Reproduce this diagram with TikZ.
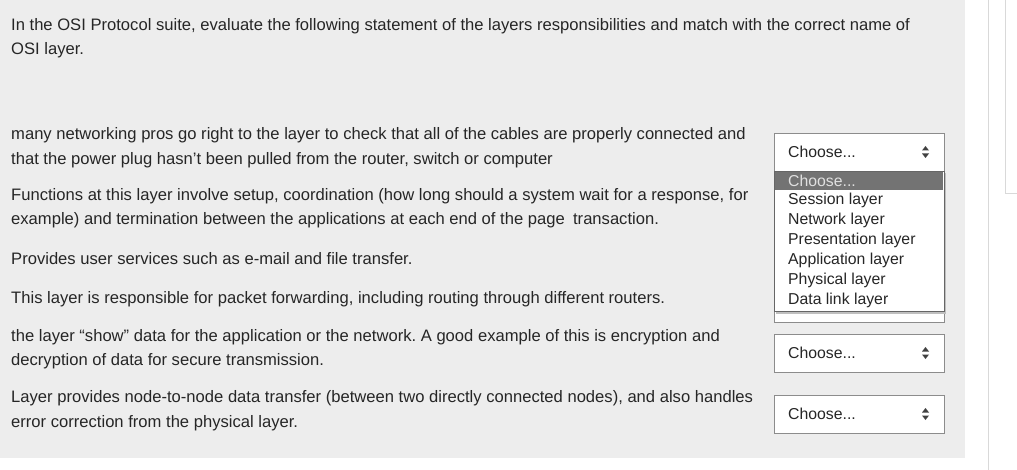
\documentclass[tikz,border=0pt]{standalone}
\usepackage{fontspec}
\setmainfont{Liberation Sans}
\frenchspacing
\begin{document}
\begin{tikzpicture}[x=1pt,y=-1pt,
  txt/.style={anchor=west,inner sep=0pt,font=\fontsize{16.6}{18}\selectfont,text=black!85},
  opt/.style={anchor=west,inner sep=0pt,font=\fontsize{15.8}{18}\selectfont,text=black!85},
  box/.style={draw=black!45,fill=white,line width=0.8pt}]
\useasboundingbox (0,0) rectangle (1017,470);
\fill[white] (0,0) rectangle (1017,470);
\fill[black!7] (0,0) rectangle (965,458);
\draw[black!15] (988,0) -- (988,470);
\draw[black!15] (1005,0) -- (1005,193) -- (1017,193);
\node[txt] (t1) at (11,26) {In the OSI Protocol suite, evaluate the following statement of the layers responsibilities and match with the correct name of};
\node[txt] (t2) at (11,50) {OSI layer.};
\node[txt] (a1) at (11,135) {many networking pros go right to the layer to check that all of the cables are properly connected and};
\node[txt] (a2) at (11,160) {that the power plug hasn't been pulled from the router, switch or computer};
\node[txt] (b1) at (11,196) {Functions at this layer involve setup, coordination (how long should a system wait for a response, for};
\node[txt] (b2) at (11,220) {example) and termination between the applications at each end of the page\enspace transaction.};
\node[txt] (c1) at (11,259) {Provides user services such as e-mail and file transfer.};
\node[txt] (d1) at (11,299) {This layer is responsible for packet forwarding, including routing through different routers.};
\node[txt] (e1) at (11,337) {the layer ``show'' data for the application or the network. A good example of this is encryption and};
\node[txt] (e2) at (11,361) {decryption of data for secure transmission.};
\node[txt] (f1) at (11,398) {Layer provides node-to-node data transfer (between two directly connected nodes), and also handles};
\node[txt] (f2) at (11,423) {error correction from the physical layer.};
% dropdowns
\draw[box] (774,133) rectangle (944,175);
\draw[box] (774,250) rectangle (944,322);
\draw[box] (774,334) rectangle (944,372);
\draw[box] (774,395) rectangle (944,433);
\node[opt] (s1) at (788,152) {Choose...};
\node[opt] (s2) at (788,353) {Choose...};
\node[opt] (s3) at (788,414) {Choose...};
\foreach \yy in {152,353,414}{
  \fill[black!75] (922,\yy-1.5) -- (929,\yy-1.5) -- (925.5,\yy-6) -- cycle;
  \fill[black!75] (922,\yy+1.5) -- (929,\yy+1.5) -- (925.5,\yy+6) -- cycle;
}
% list
\fill[black!25] (776,173) rectangle (946,314);
\draw[fill=white,draw=black!60,line width=0.8pt] (774,171) rectangle (944,311);
\fill[black!55] (775,172) rectangle (943,190);
\node[opt,text=black!12] (o0) at (788,181) {Choose...};
\node[opt] (o1) at (788,200) {Session layer};
\node[opt] (o2) at (788,220) {Network layer};
\node[opt] (o3) at (788,240) {Presentation layer};
\node[opt] (o4) at (788,260) {Application layer};
\node[opt] (o5) at (788,280) {Physical layer};
\node[opt] (o6) at (788,300) {Data link layer};
\end{tikzpicture}
\end{document}
